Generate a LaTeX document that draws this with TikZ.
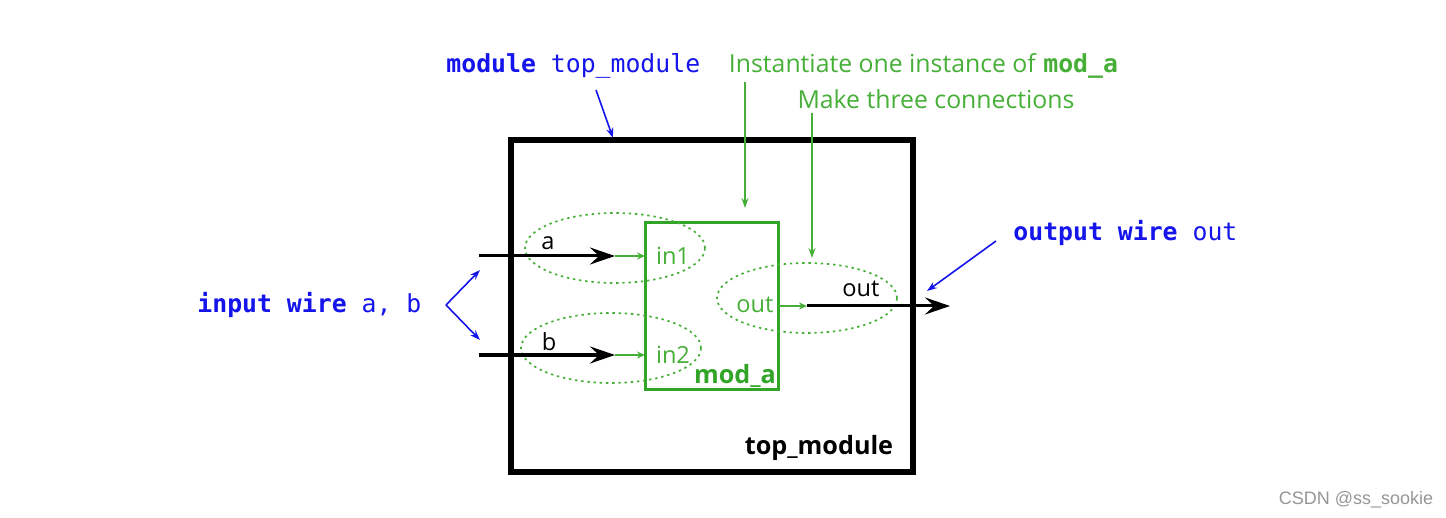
\documentclass[tikz,border=0pt]{standalone}
\usepackage{fontspec}
\setmainfont{Open Sans}
\setmonofont{DejaVu Sans Mono}
\newfontfamily\wmfont{Liberation Sans}
\usetikzlibrary{arrows.meta,shapes.geometric}
\definecolor{vblue}{RGB}{20,20,235}
\definecolor{vgreen}{RGB}{50,165,40}
\definecolor{tgreen}{RGB}{70,175,55}
\definecolor{wmgray}{RGB}{150,150,150}
\begin{document}
\begin{tikzpicture}[x=0.5pt,y=-0.5pt,
  bluetxt/.style={text=vblue,font=\fontsize{12.4}{14}\selectfont\ttfamily,inner sep=0pt},
  greentxt/.style={text=tgreen,font=\fontsize{12.4}{14}\selectfont,inner sep=0pt},
  lbl/.style={font=\fontsize{11.8}{13}\selectfont,inner sep=0pt},
  blbl/.style={font=\fontsize{12.6}{14}\selectfont\bfseries,inner sep=0pt},
  topbox/.style={draw=black,line width=3pt,minimum width=201pt,minimum height=166pt,inner sep=0pt},
  modbox/.style={draw=vgreen,line width=1.5pt,minimum width=66.5pt,minimum height=83pt,inner sep=0pt},
  portell/.style={draw=tgreen,dash pattern=on 1.2pt off 1.9pt,line width=0.85pt,ellipse,minimum width=90pt,minimum height=35pt,inner sep=0pt},
  blackwire/.style={draw=black,line width=1.5pt,-{Stealth[length=12.5pt,width=8.5pt,inset=4.5pt]}},
  greenwire/.style={draw=tgreen,line width=0.8pt,-{Stealth[length=4pt,width=3.5pt]}},
  bluearrow/.style={draw=vblue,line width=0.8pt,-{Stealth[length=5pt,width=3.5pt]}},
  greenarrow/.style={draw=tgreen,line width=0.8pt,-{Stealth[length=5pt,width=3.5pt]}},
]
\useasboundingbox (0,0) rectangle (1446,518);
% boxes
\node[topbox] (top) at (712,306) {};
\node[modbox] (mod) at (711.5,306) {};
% ellipses
\node[portell] (ea) at (615,248) {};
\node[portell] (eb) at (611,348) {};
\node[portell] (eo) at (807,298) {};
% wires
\coordinate (ain) at (479,256);
\coordinate (atip) at (615,256);
\coordinate (aport) at (645,256);
\coordinate (bin) at (479,355);
\coordinate (btip) at (615,355);
\coordinate (bport) at (645,355);
\coordinate (oport) at (778,306);
\coordinate (ojoin) at (807,306);
\coordinate (oend) at (950,306);
\draw[blackwire] (ain) -- (atip);
\draw[greenwire] (atip) -- (aport);
\draw[blackwire] (bin) -- (btip);
\draw[greenwire] (btip) -- (bport);
\draw[greenwire] (oport) -- (ojoin);
\draw[blackwire] (ojoin) -- (oend);
% labels inside
\node[lbl] (la) at (548,243) {a};
\node[lbl] (lb) at (549,342) {b};
\node[lbl,text=tgreen] (lin1) at (673,256) {in1};
\node[lbl,text=tgreen] (lin2) at (673,355) {in2};
\node[lbl,text=tgreen] (lout) at (755,305) {out};
\node[lbl] (lout2) at (861,289) {out};
\node[blbl,text=vgreen] (lmod) at (735,376) {mod\_a};
\node[blbl] (ltop) at (819,448) {top\_module};
% blue annotations
\node[bluetxt,anchor=west] (tmod) at (446,66) {\textbf{module} top\_module};
\node[bluetxt,anchor=west] (tin) at (197,305) {\textbf{input} \textbf{wire} a, b};
\node[bluetxt,anchor=west] (tout) at (1013,233) {\textbf{output} \textbf{wire} out};
\coordinate (mfrom) at (596,90);
\coordinate (mto) at (613,138);
\draw[bluearrow] (mfrom) -- (mto);
\coordinate (iv) at (446,305);
\coordinate (ia) at (480,270);
\coordinate (ib) at (480,340);
\draw[bluearrow] (iv) -- (ia);
\draw[bluearrow] (iv) -- (ib);
\coordinate (ofrom) at (996,241);
\coordinate (oto) at (927,291);
\draw[bluearrow] (ofrom) -- (oto);
% green annotations
\node[greentxt] (tinst) at (923.5,66) {Instantiate one instance of \texttt{\textbf{mod\_a}}};
\node[greentxt] (tconn) at (936,99) {Make three connections};
\coordinate (g1a) at (745,82);
\coordinate (g1b) at (745,208);
\coordinate (g2a) at (812,113);
\coordinate (g2b) at (812,258);
\draw[greenarrow] (g1a) -- (g1b);
\draw[greenarrow] (g2a) -- (g2b);
% watermark
\node[text=wmgray,font=\fontsize{9}{11}\selectfont\wmfont,inner sep=0pt] (wm) at (1356,500) {CSDN @ss\_sookie};
\end{tikzpicture}
\end{document}
